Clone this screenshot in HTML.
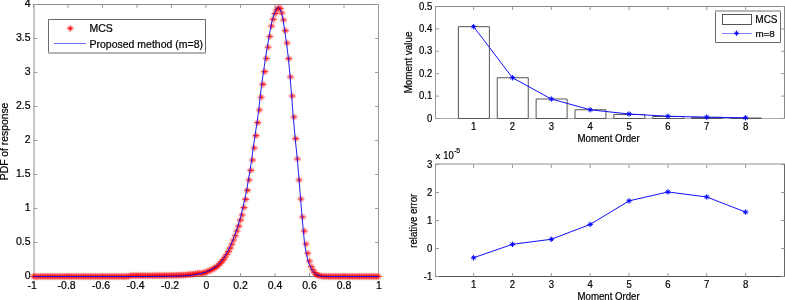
<!DOCTYPE html><html><head><meta charset="utf-8"><title>figure</title><style>html,body{margin:0;padding:0;background:#fff;width:785px;height:300px;overflow:hidden}svg{display:block}text{font-family:'Liberation Sans',Arial,Helvetica,sans-serif;fill:#000;font-size:10px;stroke:#000;stroke-width:0.2px}.ls{letter-spacing:0.2px}</style></head><body>
<svg width="785" height="300" viewBox="0 0 785 300">
<defs><filter id="b1" filterUnits="userSpaceOnUse" x="0" y="0" width="785" height="300"><feConvolveMatrix order="3" kernelMatrix="1 2 1 2 20 2 1 2 1" divisor="32" preserveAlpha="false"/></filter></defs>
<rect width="785" height="300" fill="#fff"/>
<rect x="33" y="4" width="2" height="273" fill="#c6c6c6"/>
<rect x="33" y="4" width="346" height="1" fill="#888"/>
<rect x="378" y="4" width="1" height="273" fill="#999"/>
<rect x="33" y="276" width="346" height="1" fill="#777"/>
<path fill="none" stroke="#999" stroke-width="1" d="M33.50 276.5v-3.4M33.50 4.5v3.4M68.00 276.5v-3.4M68.00 4.5v3.4M102.50 276.5v-3.4M102.50 4.5v3.4M137.00 276.5v-3.4M137.00 4.5v3.4M171.50 276.5v-3.4M171.50 4.5v3.4M206.00 276.5v-3.4M206.00 4.5v3.4M240.50 276.5v-3.4M240.50 4.5v3.4M275.00 276.5v-3.4M275.00 4.5v3.4M309.50 276.5v-3.4M309.50 4.5v3.4M344.00 276.5v-3.4M344.00 4.5v3.4M378.50 276.5v-3.4M378.50 4.5v3.4M33.5 276.50h3.9M378.5 276.50h-3.4M33.5 242.50h3.9M378.5 242.50h-3.4M33.5 208.50h3.9M378.5 208.50h-3.4M33.5 174.50h3.9M378.5 174.50h-3.4M33.5 140.50h3.9M378.5 140.50h-3.4M33.5 106.50h3.9M378.5 106.50h-3.4M33.5 72.50h3.9M378.5 72.50h-3.4M33.5 38.50h3.9M378.5 38.50h-3.4M33.5 4.50h3.9M378.5 4.50h-3.4"/>
<g filter="url(#b1)"><path fill="none" stroke="#ff0000" stroke-width="1.1" d="M30.10 276.50h6.80M31.83 276.50h6.80M33.55 276.50h6.80M35.28 276.50h6.80M37.00 276.50h6.80M38.73 276.50h6.80M40.45 276.50h6.80M42.18 276.50h6.80M43.90 276.50h6.80M45.62 276.50h6.80M47.35 276.50h6.80M49.07 276.50h6.80M50.80 276.50h6.80M52.52 276.50h6.80M54.25 276.50h6.80M55.98 276.50h6.80M57.70 276.50h6.80M59.43 276.50h6.80M61.15 276.50h6.80M62.87 276.50h6.80M64.60 276.50h6.80M66.32 276.50h6.80M68.05 276.50h6.80M69.77 276.50h6.80M71.50 276.50h6.80M73.22 276.50h6.80M74.95 276.50h6.80M76.67 276.50h6.80M78.40 276.50h6.80M80.12 276.50h6.80M81.85 276.50h6.80M83.58 276.50h6.80M85.30 276.50h6.80M87.03 276.50h6.80M88.75 276.50h6.80M90.48 276.50h6.80M92.20 276.50h6.80M93.92 276.50h6.80M95.65 276.50h6.80M97.38 276.50h6.80M99.10 276.50h6.80M100.83 276.50h6.80M102.55 276.50h6.80M104.27 276.50h6.80M106.00 276.50h6.80M107.72 276.50h6.80M109.45 276.50h6.80M111.17 276.50h6.80M112.90 276.50h6.80M114.62 276.50h6.80M116.35 276.50h6.80M118.08 276.50h6.80M119.80 276.50h6.80M121.53 276.50h6.80M123.25 276.50h6.80M124.97 276.50h6.80M126.70 275.70h6.80M128.43 275.70h6.80M130.15 275.70h6.80M131.87 275.70h6.80M133.60 275.70h6.80M135.32 275.70h6.80M137.05 275.70h6.80M138.78 275.70h6.80M140.50 275.70h6.80M142.22 275.70h6.80M143.95 275.70h6.80M145.67 275.70h6.80M147.40 275.69h6.80M149.12 275.67h6.80M150.85 275.65h6.80M152.57 275.63h6.80M154.30 275.61h6.80M156.03 275.59h6.80M157.75 275.57h6.80M159.47 275.55h6.80M161.20 275.52h6.80M162.93 275.50h6.80M164.65 275.48h6.80M166.38 275.46h6.80M168.10 275.44h6.80M169.83 275.42h6.80M171.55 275.40h6.80M173.28 275.33h6.80M175.00 275.26h6.80M176.72 275.19h6.80M178.45 275.13h6.80M180.17 275.06h6.80M181.90 274.97h6.80M183.62 274.80h6.80M185.35 274.64h6.80M187.07 274.47h6.80M188.80 274.31h6.80M190.53 274.09h6.80M192.25 273.79h6.80M193.97 273.49h6.80M195.70 273.18h6.80M197.42 273.60h6.80M199.15 273.12h6.80M200.88 272.64h6.80M202.60 272.16h6.80M204.32 271.50h6.80M206.05 270.71h6.80M207.78 269.93h6.80M209.50 269.13h6.80M211.22 268.00h6.80M212.95 266.86h6.80M214.68 265.49h6.80M216.40 263.79h6.80M218.12 261.86h6.80M219.85 259.59h6.80M221.58 257.32h6.80M223.30 254.46h6.80M225.03 251.59h6.80M226.75 248.08h6.80M228.48 244.28h6.80M230.20 240.04h6.80M231.92 235.70h6.80M233.65 230.93h6.80M235.37 226.08h6.80M237.10 220.08h6.80M238.82 215.00h6.80M240.55 207.60h6.80M242.27 199.40h6.80M244.00 190.40h6.80M245.72 180.00h6.80M247.45 170.40h6.80M249.18 160.00h6.80M250.90 148.00h6.80M252.62 135.60h6.80M254.35 122.60h6.80M256.08 110.00h6.80M257.80 97.20h6.80M259.53 84.40h6.80M261.25 71.60h6.80M262.98 58.50h6.80M264.70 47.20h6.80M266.43 36.50h6.80M268.15 26.00h6.80M269.88 19.40h6.80M271.60 13.60h6.80M273.33 9.80h6.80M275.05 8.00h6.80M276.77 8.40h6.80M278.50 13.00h6.80M280.23 20.00h6.80M281.95 30.60h6.80M283.68 43.00h6.80M285.40 58.60h6.80M287.12 77.00h6.80M288.85 96.00h6.80M290.58 117.00h6.80M292.30 138.60h6.80M294.03 159.00h6.80M295.75 180.00h6.80M297.48 199.00h6.80M299.20 217.00h6.80M300.93 231.00h6.80M302.65 244.00h6.80M304.38 253.30h6.80M306.10 261.00h6.80M307.83 266.50h6.80M309.55 270.00h6.80M311.28 272.60h6.80M313.00 274.90h6.80M314.73 275.33h6.80M316.45 275.76h6.80M318.18 276.19h6.80M319.90 276.33h6.80M321.62 276.38h6.80M323.35 276.42h6.80M325.07 276.46h6.80M326.80 276.50h6.80M328.53 276.50h6.80M330.25 276.50h6.80M331.98 276.50h6.80M333.70 276.50h6.80M335.43 276.50h6.80M337.15 276.50h6.80M338.88 276.50h6.80M340.60 276.50h6.80M342.33 276.50h6.80M344.05 276.50h6.80M345.78 276.50h6.80M347.50 276.50h6.80M349.23 276.50h6.80M350.95 276.50h6.80M352.68 276.50h6.80M354.40 276.50h6.80M356.13 276.50h6.80M357.85 276.50h6.80M359.58 276.50h6.80M361.30 276.50h6.80M363.03 276.50h6.80M364.75 276.50h6.80M366.48 276.50h6.80M368.20 276.50h6.80M369.93 276.50h6.80M371.65 276.50h6.80M373.38 276.50h6.80M375.10 276.50h6.80"/>
<path fill="none" stroke="#ff0000" stroke-width="0.8" d="M33.50 273.20v6.60M35.23 273.20v6.60M36.95 273.20v6.60M38.68 273.20v6.60M40.40 273.20v6.60M42.13 273.20v6.60M43.85 273.20v6.60M45.58 273.20v6.60M47.30 273.20v6.60M49.02 273.20v6.60M50.75 273.20v6.60M52.47 273.20v6.60M54.20 273.20v6.60M55.92 273.20v6.60M57.65 273.20v6.60M59.38 273.20v6.60M61.10 273.20v6.60M62.83 273.20v6.60M64.55 273.20v6.60M66.27 273.20v6.60M68.00 273.20v6.60M69.72 273.20v6.60M71.45 273.20v6.60M73.17 273.20v6.60M74.90 273.20v6.60M76.62 273.20v6.60M78.35 273.20v6.60M80.08 273.20v6.60M81.80 273.20v6.60M83.53 273.20v6.60M85.25 273.20v6.60M86.98 273.20v6.60M88.70 273.20v6.60M90.43 273.20v6.60M92.15 273.20v6.60M93.88 273.20v6.60M95.60 273.20v6.60M97.32 273.20v6.60M99.05 273.20v6.60M100.78 273.20v6.60M102.50 273.20v6.60M104.23 273.20v6.60M105.95 273.20v6.60M107.67 273.20v6.60M109.40 273.20v6.60M111.12 273.20v6.60M112.85 273.20v6.60M114.57 273.20v6.60M116.30 273.20v6.60M118.02 273.20v6.60M119.75 273.20v6.60M121.48 273.20v6.60M123.20 273.20v6.60M124.93 273.20v6.60M126.65 273.20v6.60M128.38 273.20v6.60M130.10 272.40v6.60M131.83 272.40v6.60M133.55 272.40v6.60M135.27 272.40v6.60M137.00 272.40v6.60M138.72 272.40v6.60M140.45 272.40v6.60M142.18 272.40v6.60M143.90 272.40v6.60M145.62 272.40v6.60M147.35 272.40v6.60M149.07 272.40v6.60M150.80 272.39v6.60M152.53 272.37v6.60M154.25 272.35v6.60M155.97 272.33v6.60M157.70 272.31v6.60M159.43 272.29v6.60M161.15 272.27v6.60M162.88 272.25v6.60M164.60 272.22v6.60M166.33 272.20v6.60M168.05 272.18v6.60M169.78 272.16v6.60M171.50 272.14v6.60M173.23 272.12v6.60M174.95 272.10v6.60M176.68 272.03v6.60M178.40 271.96v6.60M180.12 271.89v6.60M181.85 271.83v6.60M183.57 271.76v6.60M185.30 271.67v6.60M187.03 271.50v6.60M188.75 271.34v6.60M190.47 271.17v6.60M192.20 271.01v6.60M193.93 270.79v6.60M195.65 270.49v6.60M197.38 270.19v6.60M199.10 269.88v6.60M200.82 270.30v6.60M202.55 269.82v6.60M204.28 269.34v6.60M206.00 268.86v6.60M207.72 268.20v6.60M209.45 267.41v6.60M211.18 266.63v6.60M212.90 265.83v6.60M214.62 264.69v6.60M216.35 263.56v6.60M218.08 262.19v6.60M219.80 260.49v6.60M221.53 258.56v6.60M223.25 256.29v6.60M224.98 254.02v6.60M226.70 251.16v6.60M228.43 248.29v6.60M230.15 244.78v6.60M231.88 240.98v6.60M233.60 236.74v6.60M235.32 232.40v6.60M237.05 227.63v6.60M238.77 222.78v6.60M240.50 216.78v6.60M242.22 211.70v6.60M243.95 204.30v6.60M245.67 196.10v6.60M247.40 187.10v6.60M249.12 176.70v6.60M250.85 167.10v6.60M252.58 156.70v6.60M254.30 144.70v6.60M256.02 132.30v6.60M257.75 119.30v6.60M259.48 106.70v6.60M261.20 93.90v6.60M262.93 81.10v6.60M264.65 68.30v6.60M266.38 55.20v6.60M268.10 43.90v6.60M269.83 33.20v6.60M271.55 22.70v6.60M273.28 16.10v6.60M275.00 10.30v6.60M276.73 6.50v6.60M278.45 4.70v6.60M280.17 5.10v6.60M281.90 9.70v6.60M283.62 16.70v6.60M285.35 27.30v6.60M287.07 39.70v6.60M288.80 55.30v6.60M290.52 73.70v6.60M292.25 92.70v6.60M293.98 113.70v6.60M295.70 135.30v6.60M297.43 155.70v6.60M299.15 176.70v6.60M300.88 195.70v6.60M302.60 213.70v6.60M304.32 227.70v6.60M306.05 240.70v6.60M307.78 250.00v6.60M309.50 257.70v6.60M311.23 263.20v6.60M312.95 266.70v6.60M314.68 269.30v6.60M316.40 271.60v6.60M318.12 272.03v6.60M319.85 272.46v6.60M321.57 272.89v6.60M323.30 273.03v6.60M325.02 273.08v6.60M326.75 273.12v6.60M328.47 273.16v6.60M330.20 273.20v6.60M331.93 273.20v6.60M333.65 273.20v6.60M335.38 273.20v6.60M337.10 273.20v6.60M338.82 273.20v6.60M340.55 273.20v6.60M342.28 273.20v6.60M344.00 273.20v6.60M345.73 273.20v6.60M347.45 273.20v6.60M349.18 273.20v6.60M350.90 273.20v6.60M352.62 273.20v6.60M354.35 273.20v6.60M356.08 273.20v6.60M357.80 273.20v6.60M359.53 273.20v6.60M361.25 273.20v6.60M362.98 273.20v6.60M364.70 273.20v6.60M366.43 273.20v6.60M368.15 273.20v6.60M369.88 273.20v6.60M371.60 273.20v6.60M373.32 273.20v6.60M375.05 273.20v6.60M376.77 273.20v6.60M378.50 273.20v6.60"/>
<path fill="none" stroke="#ff0000" stroke-width="0.7" d="M31.20 274.20l4.60 4.60M31.20 278.80l4.60 -4.60M32.93 274.20l4.60 4.60M32.93 278.80l4.60 -4.60M34.65 274.20l4.60 4.60M34.65 278.80l4.60 -4.60M36.38 274.20l4.60 4.60M36.38 278.80l4.60 -4.60M38.10 274.20l4.60 4.60M38.10 278.80l4.60 -4.60M39.83 274.20l4.60 4.60M39.83 278.80l4.60 -4.60M41.55 274.20l4.60 4.60M41.55 278.80l4.60 -4.60M43.28 274.20l4.60 4.60M43.28 278.80l4.60 -4.60M45.00 274.20l4.60 4.60M45.00 278.80l4.60 -4.60M46.72 274.20l4.60 4.60M46.72 278.80l4.60 -4.60M48.45 274.20l4.60 4.60M48.45 278.80l4.60 -4.60M50.17 274.20l4.60 4.60M50.17 278.80l4.60 -4.60M51.90 274.20l4.60 4.60M51.90 278.80l4.60 -4.60M53.62 274.20l4.60 4.60M53.62 278.80l4.60 -4.60M55.35 274.20l4.60 4.60M55.35 278.80l4.60 -4.60M57.08 274.20l4.60 4.60M57.08 278.80l4.60 -4.60M58.80 274.20l4.60 4.60M58.80 278.80l4.60 -4.60M60.53 274.20l4.60 4.60M60.53 278.80l4.60 -4.60M62.25 274.20l4.60 4.60M62.25 278.80l4.60 -4.60M63.97 274.20l4.60 4.60M63.97 278.80l4.60 -4.60M65.70 274.20l4.60 4.60M65.70 278.80l4.60 -4.60M67.42 274.20l4.60 4.60M67.42 278.80l4.60 -4.60M69.15 274.20l4.60 4.60M69.15 278.80l4.60 -4.60M70.88 274.20l4.60 4.60M70.88 278.80l4.60 -4.60M72.60 274.20l4.60 4.60M72.60 278.80l4.60 -4.60M74.33 274.20l4.60 4.60M74.33 278.80l4.60 -4.60M76.05 274.20l4.60 4.60M76.05 278.80l4.60 -4.60M77.78 274.20l4.60 4.60M77.78 278.80l4.60 -4.60M79.50 274.20l4.60 4.60M79.50 278.80l4.60 -4.60M81.23 274.20l4.60 4.60M81.23 278.80l4.60 -4.60M82.95 274.20l4.60 4.60M82.95 278.80l4.60 -4.60M84.68 274.20l4.60 4.60M84.68 278.80l4.60 -4.60M86.40 274.20l4.60 4.60M86.40 278.80l4.60 -4.60M88.13 274.20l4.60 4.60M88.13 278.80l4.60 -4.60M89.85 274.20l4.60 4.60M89.85 278.80l4.60 -4.60M91.58 274.20l4.60 4.60M91.58 278.80l4.60 -4.60M93.30 274.20l4.60 4.60M93.30 278.80l4.60 -4.60M95.02 274.20l4.60 4.60M95.02 278.80l4.60 -4.60M96.75 274.20l4.60 4.60M96.75 278.80l4.60 -4.60M98.48 274.20l4.60 4.60M98.48 278.80l4.60 -4.60M100.20 274.20l4.60 4.60M100.20 278.80l4.60 -4.60M101.93 274.20l4.60 4.60M101.93 278.80l4.60 -4.60M103.65 274.20l4.60 4.60M103.65 278.80l4.60 -4.60M105.37 274.20l4.60 4.60M105.37 278.80l4.60 -4.60M107.10 274.20l4.60 4.60M107.10 278.80l4.60 -4.60M108.82 274.20l4.60 4.60M108.82 278.80l4.60 -4.60M110.55 274.20l4.60 4.60M110.55 278.80l4.60 -4.60M112.27 274.20l4.60 4.60M112.27 278.80l4.60 -4.60M114.00 274.20l4.60 4.60M114.00 278.80l4.60 -4.60M115.72 274.20l4.60 4.60M115.72 278.80l4.60 -4.60M117.45 274.20l4.60 4.60M117.45 278.80l4.60 -4.60M119.18 274.20l4.60 4.60M119.18 278.80l4.60 -4.60M120.90 274.20l4.60 4.60M120.90 278.80l4.60 -4.60M122.63 274.20l4.60 4.60M122.63 278.80l4.60 -4.60M124.35 274.20l4.60 4.60M124.35 278.80l4.60 -4.60M126.08 274.20l4.60 4.60M126.08 278.80l4.60 -4.60M127.80 273.40l4.60 4.60M127.80 278.00l4.60 -4.60M129.53 273.40l4.60 4.60M129.53 278.00l4.60 -4.60M131.25 273.40l4.60 4.60M131.25 278.00l4.60 -4.60M132.97 273.40l4.60 4.60M132.97 278.00l4.60 -4.60M134.70 273.40l4.60 4.60M134.70 278.00l4.60 -4.60M136.42 273.40l4.60 4.60M136.42 278.00l4.60 -4.60M138.15 273.40l4.60 4.60M138.15 278.00l4.60 -4.60M139.88 273.40l4.60 4.60M139.88 278.00l4.60 -4.60M141.60 273.40l4.60 4.60M141.60 278.00l4.60 -4.60M143.32 273.40l4.60 4.60M143.32 278.00l4.60 -4.60M145.05 273.40l4.60 4.60M145.05 278.00l4.60 -4.60M146.77 273.40l4.60 4.60M146.77 278.00l4.60 -4.60M148.50 273.39l4.60 4.60M148.50 277.99l4.60 -4.60M150.22 273.37l4.60 4.60M150.22 277.97l4.60 -4.60M151.95 273.35l4.60 4.60M151.95 277.95l4.60 -4.60M153.67 273.33l4.60 4.60M153.67 277.93l4.60 -4.60M155.40 273.31l4.60 4.60M155.40 277.91l4.60 -4.60M157.12 273.29l4.60 4.60M157.12 277.89l4.60 -4.60M158.85 273.27l4.60 4.60M158.85 277.87l4.60 -4.60M160.57 273.25l4.60 4.60M160.57 277.85l4.60 -4.60M162.30 273.22l4.60 4.60M162.30 277.82l4.60 -4.60M164.03 273.20l4.60 4.60M164.03 277.80l4.60 -4.60M165.75 273.18l4.60 4.60M165.75 277.78l4.60 -4.60M167.47 273.16l4.60 4.60M167.47 277.76l4.60 -4.60M169.20 273.14l4.60 4.60M169.20 277.74l4.60 -4.60M170.93 273.12l4.60 4.60M170.93 277.72l4.60 -4.60M172.65 273.10l4.60 4.60M172.65 277.70l4.60 -4.60M174.38 273.03l4.60 4.60M174.38 277.63l4.60 -4.60M176.10 272.96l4.60 4.60M176.10 277.56l4.60 -4.60M177.82 272.89l4.60 4.60M177.82 277.50l4.60 -4.60M179.55 272.83l4.60 4.60M179.55 277.43l4.60 -4.60M181.27 272.76l4.60 4.60M181.27 277.36l4.60 -4.60M183.00 272.67l4.60 4.60M183.00 277.27l4.60 -4.60M184.72 272.50l4.60 4.60M184.72 277.10l4.60 -4.60M186.45 272.34l4.60 4.60M186.45 276.94l4.60 -4.60M188.17 272.17l4.60 4.60M188.17 276.77l4.60 -4.60M189.90 272.01l4.60 4.60M189.90 276.61l4.60 -4.60M191.62 271.79l4.60 4.60M191.62 276.39l4.60 -4.60M193.35 271.49l4.60 4.60M193.35 276.09l4.60 -4.60M195.07 271.19l4.60 4.60M195.07 275.79l4.60 -4.60M196.80 270.88l4.60 4.60M196.80 275.48l4.60 -4.60M198.52 271.30l4.60 4.60M198.52 275.90l4.60 -4.60M200.25 270.82l4.60 4.60M200.25 275.42l4.60 -4.60M201.97 270.34l4.60 4.60M201.97 274.94l4.60 -4.60M203.70 269.86l4.60 4.60M203.70 274.46l4.60 -4.60M205.42 269.20l4.60 4.60M205.42 273.80l4.60 -4.60M207.15 268.41l4.60 4.60M207.15 273.01l4.60 -4.60M208.88 267.63l4.60 4.60M208.88 272.23l4.60 -4.60M210.60 266.83l4.60 4.60M210.60 271.43l4.60 -4.60M212.32 265.69l4.60 4.60M212.32 270.30l4.60 -4.60M214.05 264.56l4.60 4.60M214.05 269.16l4.60 -4.60M215.78 263.19l4.60 4.60M215.78 267.79l4.60 -4.60M217.50 261.49l4.60 4.60M217.50 266.09l4.60 -4.60M219.22 259.56l4.60 4.60M219.22 264.16l4.60 -4.60M220.95 257.29l4.60 4.60M220.95 261.89l4.60 -4.60M222.68 255.02l4.60 4.60M222.68 259.62l4.60 -4.60M224.40 252.16l4.60 4.60M224.40 256.76l4.60 -4.60M226.12 249.29l4.60 4.60M226.12 253.89l4.60 -4.60M227.85 245.78l4.60 4.60M227.85 250.38l4.60 -4.60M229.58 241.98l4.60 4.60M229.58 246.58l4.60 -4.60M231.30 237.74l4.60 4.60M231.30 242.34l4.60 -4.60M233.02 233.40l4.60 4.60M233.02 238.00l4.60 -4.60M234.75 228.63l4.60 4.60M234.75 233.23l4.60 -4.60M236.47 223.78l4.60 4.60M236.47 228.38l4.60 -4.60M238.20 217.78l4.60 4.60M238.20 222.38l4.60 -4.60M239.92 212.70l4.60 4.60M239.92 217.30l4.60 -4.60M241.65 205.30l4.60 4.60M241.65 209.90l4.60 -4.60M243.37 197.10l4.60 4.60M243.37 201.70l4.60 -4.60M245.10 188.10l4.60 4.60M245.10 192.70l4.60 -4.60M246.82 177.70l4.60 4.60M246.82 182.30l4.60 -4.60M248.55 168.10l4.60 4.60M248.55 172.70l4.60 -4.60M250.28 157.70l4.60 4.60M250.28 162.30l4.60 -4.60M252.00 145.70l4.60 4.60M252.00 150.30l4.60 -4.60M253.72 133.30l4.60 4.60M253.72 137.90l4.60 -4.60M255.45 120.30l4.60 4.60M255.45 124.90l4.60 -4.60M257.18 107.70l4.60 4.60M257.18 112.30l4.60 -4.60M258.90 94.90l4.60 4.60M258.90 99.50l4.60 -4.60M260.62 82.10l4.60 4.60M260.62 86.70l4.60 -4.60M262.35 69.30l4.60 4.60M262.35 73.90l4.60 -4.60M264.07 56.20l4.60 4.60M264.07 60.80l4.60 -4.60M265.80 44.90l4.60 4.60M265.80 49.50l4.60 -4.60M267.53 34.20l4.60 4.60M267.53 38.80l4.60 -4.60M269.25 23.70l4.60 4.60M269.25 28.30l4.60 -4.60M270.98 17.10l4.60 4.60M270.98 21.70l4.60 -4.60M272.70 11.30l4.60 4.60M272.70 15.90l4.60 -4.60M274.43 7.50l4.60 4.60M274.43 12.10l4.60 -4.60M276.15 5.70l4.60 4.60M276.15 10.30l4.60 -4.60M277.87 6.10l4.60 4.60M277.87 10.70l4.60 -4.60M279.60 10.70l4.60 4.60M279.60 15.30l4.60 -4.60M281.32 17.70l4.60 4.60M281.32 22.30l4.60 -4.60M283.05 28.30l4.60 4.60M283.05 32.90l4.60 -4.60M284.77 40.70l4.60 4.60M284.77 45.30l4.60 -4.60M286.50 56.30l4.60 4.60M286.50 60.90l4.60 -4.60M288.22 74.70l4.60 4.60M288.22 79.30l4.60 -4.60M289.95 93.70l4.60 4.60M289.95 98.30l4.60 -4.60M291.68 114.70l4.60 4.60M291.68 119.30l4.60 -4.60M293.40 136.30l4.60 4.60M293.40 140.90l4.60 -4.60M295.12 156.70l4.60 4.60M295.12 161.30l4.60 -4.60M296.85 177.70l4.60 4.60M296.85 182.30l4.60 -4.60M298.57 196.70l4.60 4.60M298.57 201.30l4.60 -4.60M300.30 214.70l4.60 4.60M300.30 219.30l4.60 -4.60M302.02 228.70l4.60 4.60M302.02 233.30l4.60 -4.60M303.75 241.70l4.60 4.60M303.75 246.30l4.60 -4.60M305.48 251.00l4.60 4.60M305.48 255.60l4.60 -4.60M307.20 258.70l4.60 4.60M307.20 263.30l4.60 -4.60M308.93 264.20l4.60 4.60M308.93 268.80l4.60 -4.60M310.65 267.70l4.60 4.60M310.65 272.30l4.60 -4.60M312.38 270.30l4.60 4.60M312.38 274.90l4.60 -4.60M314.10 272.60l4.60 4.60M314.10 277.20l4.60 -4.60M315.82 273.03l4.60 4.60M315.82 277.63l4.60 -4.60M317.55 273.46l4.60 4.60M317.55 278.06l4.60 -4.60M319.27 273.89l4.60 4.60M319.27 278.49l4.60 -4.60M321.00 274.03l4.60 4.60M321.00 278.63l4.60 -4.60M322.72 274.08l4.60 4.60M322.72 278.68l4.60 -4.60M324.45 274.12l4.60 4.60M324.45 278.72l4.60 -4.60M326.17 274.16l4.60 4.60M326.17 278.76l4.60 -4.60M327.90 274.20l4.60 4.60M327.90 278.80l4.60 -4.60M329.62 274.20l4.60 4.60M329.62 278.80l4.60 -4.60M331.35 274.20l4.60 4.60M331.35 278.80l4.60 -4.60M333.07 274.20l4.60 4.60M333.07 278.80l4.60 -4.60M334.80 274.20l4.60 4.60M334.80 278.80l4.60 -4.60M336.52 274.20l4.60 4.60M336.52 278.80l4.60 -4.60M338.25 274.20l4.60 4.60M338.25 278.80l4.60 -4.60M339.98 274.20l4.60 4.60M339.98 278.80l4.60 -4.60M341.70 274.20l4.60 4.60M341.70 278.80l4.60 -4.60M343.43 274.20l4.60 4.60M343.43 278.80l4.60 -4.60M345.15 274.20l4.60 4.60M345.15 278.80l4.60 -4.60M346.88 274.20l4.60 4.60M346.88 278.80l4.60 -4.60M348.60 274.20l4.60 4.60M348.60 278.80l4.60 -4.60M350.32 274.20l4.60 4.60M350.32 278.80l4.60 -4.60M352.05 274.20l4.60 4.60M352.05 278.80l4.60 -4.60M353.78 274.20l4.60 4.60M353.78 278.80l4.60 -4.60M355.50 274.20l4.60 4.60M355.50 278.80l4.60 -4.60M357.23 274.20l4.60 4.60M357.23 278.80l4.60 -4.60M358.95 274.20l4.60 4.60M358.95 278.80l4.60 -4.60M360.68 274.20l4.60 4.60M360.68 278.80l4.60 -4.60M362.40 274.20l4.60 4.60M362.40 278.80l4.60 -4.60M364.12 274.20l4.60 4.60M364.12 278.80l4.60 -4.60M365.85 274.20l4.60 4.60M365.85 278.80l4.60 -4.60M367.57 274.20l4.60 4.60M367.57 278.80l4.60 -4.60M369.30 274.20l4.60 4.60M369.30 278.80l4.60 -4.60M371.02 274.20l4.60 4.60M371.02 278.80l4.60 -4.60M372.75 274.20l4.60 4.60M372.75 278.80l4.60 -4.60M374.47 274.20l4.60 4.60M374.47 278.80l4.60 -4.60M376.20 274.20l4.60 4.60M376.20 278.80l4.60 -4.60"/></g>
<polyline fill="none" stroke="#0505ee" stroke-width="0.9" points="33.50,276.50 150.00,276.50 175.00,276.20 185.00,275.80 193.30,275.00 199.91,273.82 206.34,271.98 212.11,269.18 216.52,266.23 220.02,262.77 224.18,257.32 228.18,250.68 231.20,244.00 234.30,236.32 237.88,226.43 240.85,216.08 242.90,207.40 244.80,199.20 246.65,190.05 248.35,180.20 250.05,170.20 251.65,159.60 253.20,147.90 255.00,135.45 257.00,122.70 258.70,109.95 260.10,97.20 261.70,84.40 263.50,71.55 265.30,59.05 267.20,47.50 269.10,36.65 270.75,27.00 272.35,19.60 274.20,14.00 276.20,9.40 278.20,7.00 279.90,8.60 281.77,13.65 283.25,20.90 284.75,31.05 286.60,43.80 288.50,59.30 290.15,77.15 291.65,96.50 293.25,117.15 295.20,138.30 297.30,159.15 299.05,179.50 300.55,198.75 302.02,216.07 303.32,230.73 304.52,242.88 306.23,253.60 308.70,263.15 312.07,270.30 316.40,274.90 322.00,276.30 330.00,276.50 378.50,276.50"/>
<text transform="translate(32.10,288.80) scale(1.05,1)" style="font-size:10px" text-anchor="middle">-1</text>
<text transform="translate(66.60,288.80) scale(1.05,1)" style="font-size:10px" text-anchor="middle">-0.8</text>
<text transform="translate(101.10,288.80) scale(1.05,1)" style="font-size:10px" text-anchor="middle">-0.6</text>
<text transform="translate(135.60,288.80) scale(1.05,1)" style="font-size:10px" text-anchor="middle">-0.4</text>
<text transform="translate(170.10,288.80) scale(1.05,1)" style="font-size:10px" text-anchor="middle">-0.2</text>
<text transform="translate(206.50,288.80) scale(1.05,1)" style="font-size:10px" text-anchor="middle">0</text>
<text transform="translate(240.50,288.80) scale(1.05,1)" style="font-size:10px" text-anchor="middle">0.2</text>
<text transform="translate(275.00,288.80) scale(1.05,1)" style="font-size:10px" text-anchor="middle">0.4</text>
<text transform="translate(309.50,288.80) scale(1.05,1)" style="font-size:10px" text-anchor="middle">0.6</text>
<text transform="translate(344.00,288.80) scale(1.05,1)" style="font-size:10px" text-anchor="middle">0.8</text>
<text transform="translate(379.00,288.80) scale(1.05,1)" style="font-size:10px" text-anchor="middle">1</text>
<text transform="translate(30.60,278.90) scale(1.05,1)" style="font-size:10px" text-anchor="end">0</text>
<text transform="translate(30.60,244.90) scale(1.05,1)" style="font-size:10px" text-anchor="end">0.5</text>
<text transform="translate(30.60,210.90) scale(1.05,1)" style="font-size:10px" text-anchor="end">1</text>
<text transform="translate(30.60,176.90) scale(1.05,1)" style="font-size:10px" text-anchor="end">1.5</text>
<text transform="translate(30.60,142.90) scale(1.05,1)" style="font-size:10px" text-anchor="end">2</text>
<text transform="translate(30.60,108.90) scale(1.05,1)" style="font-size:10px" text-anchor="end">2.5</text>
<text transform="translate(30.60,74.90) scale(1.05,1)" style="font-size:10px" text-anchor="end">3</text>
<text transform="translate(30.60,40.90) scale(1.05,1)" style="font-size:10px" text-anchor="end">3.5</text>
<text transform="translate(30.60,6.90) scale(1.05,1)" style="font-size:10px" text-anchor="end">4</text>
<text transform="translate(7.90,141.40) rotate(-90) scale(1.035,1)" style="font-size:10px" text-anchor="middle">PDF of response</text>
<rect x="48" y="19" width="158" height="35" fill="#fff"/>
<path fill="none" stroke="#6a6a6a" stroke-width="1" d="M48.5 52V19.5H205.5V52"/>
<rect x="48" y="52" width="158" height="2" fill="#b4b4b4"/>
<g filter="url(#b1)"><path fill="none" stroke="#ff0000" stroke-width="1.2" d="M67.30 28.40h6.00M70.30 25.40v6.00"/>
<path fill="none" stroke="#ff0000" stroke-width="0.7" d="M68.30 26.40l4.00 4.00M68.30 30.40l4.00 -4.00"/></g>
<path fill="none" stroke="#7070ff" stroke-width="1" d="M54 43.5H86"/>
<text transform="translate(89.50,32.20) scale(1.05,1)" style="font-size:10px">MCS</text>
<text transform="translate(89.50,47.60) scale(1.05,1)" style="font-size:10px">Proposed method (m=8)</text>
<rect x="435" y="6" width="1" height="113" fill="#999"/>
<rect x="435" y="6" width="350" height="1" fill="#888"/>
<rect x="784" y="6" width="1" height="113" fill="#888"/>
<rect x="435" y="118" width="350" height="1" fill="#aaa"/>
<path fill="none" stroke="#999" stroke-width="1" d="M473.60 118.5v-3.5M473.60 6.5v3.5M512.46 118.5v-3.5M512.46 6.5v3.5M551.32 118.5v-3.5M551.32 6.5v3.5M590.18 118.5v-3.5M590.18 6.5v3.5M629.04 118.5v-3.5M629.04 6.5v3.5M667.90 118.5v-3.5M667.90 6.5v3.5M706.76 118.5v-3.5M706.76 6.5v3.5M745.62 118.5v-3.5M745.62 6.5v3.5M435.5 118.50h3.5M784.5 118.50h-3.5M435.5 96.10h3.5M784.5 96.10h-3.5M435.5 73.70h3.5M784.5 73.70h-3.5M435.5 51.30h3.5M784.5 51.30h-3.5M435.5 28.90h3.5M784.5 28.90h-3.5M435.5 6.50h3.5M784.5 6.50h-3.5"/>
<path fill="#fff" stroke="#555" stroke-width="1" d="M458.40 118.5V26.66H489.40V118.5ZM497.26 118.5V77.73H528.26V118.5ZM536.12 118.5V99.01H567.12V118.5ZM574.98 118.5V109.76H605.98V118.5ZM613.84 118.5V114.47H644.84V118.5ZM652.70 118.5V116.48H683.70V118.5ZM691.56 118.5V117.38H722.56V118.5ZM730.42 118.5V118.05H761.42V118.5Z"/>
<polyline fill="none" stroke="#1010ff" stroke-width="1" points="473.60,26.66 512.46,77.73 551.32,99.01 590.18,109.76 629.04,114.02 667.90,116.26 706.76,117.16 745.62,117.83"/>
<path fill="none" stroke="#0000ff" stroke-width="1" d="M470.90 26.66h5.40M473.60 23.96v5.40M471.80 24.86l3.60 3.60M471.80 28.46l3.60 -3.60M509.76 77.73h5.40M512.46 75.03v5.40M510.66 75.93l3.60 3.60M510.66 79.53l3.60 -3.60M548.62 99.01h5.40M551.32 96.31v5.40M549.52 97.21l3.60 3.60M549.52 100.81l3.60 -3.60M587.48 109.76h5.40M590.18 107.06v5.40M588.38 107.96l3.60 3.60M588.38 111.56l3.60 -3.60M626.34 114.02h5.40M629.04 111.32v5.40M627.24 112.22l3.60 3.60M627.24 115.82l3.60 -3.60M665.20 116.26h5.40M667.90 113.56v5.40M666.10 114.46l3.60 3.60M666.10 118.06l3.60 -3.60M704.06 117.16h5.40M706.76 114.46v5.40M704.96 115.36l3.60 3.60M704.96 118.96l3.60 -3.60M742.92 117.83h5.40M745.62 115.13v5.40M743.82 116.03l3.60 3.60M743.82 119.63l3.60 -3.60"/>
<text transform="translate(473.60,130.00) scale(0.955,1)" style="font-size:10px" text-anchor="middle">1</text>
<text transform="translate(512.46,130.00) scale(0.955,1)" style="font-size:10px" text-anchor="middle">2</text>
<text transform="translate(551.32,130.00) scale(0.955,1)" style="font-size:10px" text-anchor="middle">3</text>
<text transform="translate(590.18,130.00) scale(0.955,1)" style="font-size:10px" text-anchor="middle">4</text>
<text transform="translate(629.04,130.00) scale(0.955,1)" style="font-size:10px" text-anchor="middle">5</text>
<text transform="translate(667.90,130.00) scale(0.955,1)" style="font-size:10px" text-anchor="middle">6</text>
<text transform="translate(706.76,130.00) scale(0.955,1)" style="font-size:10px" text-anchor="middle">7</text>
<text transform="translate(745.62,130.00) scale(0.955,1)" style="font-size:10px" text-anchor="middle">8</text>
<text transform="translate(432.20,121.60) scale(0.955,1)" style="font-size:10px" text-anchor="end">0</text>
<text transform="translate(432.20,99.20) scale(0.955,1)" style="font-size:10px" text-anchor="end">0.1</text>
<text transform="translate(432.20,76.80) scale(0.955,1)" style="font-size:10px" text-anchor="end">0.2</text>
<text transform="translate(432.20,54.40) scale(0.955,1)" style="font-size:10px" text-anchor="end">0.3</text>
<text transform="translate(432.20,32.00) scale(0.955,1)" style="font-size:10px" text-anchor="end">0.4</text>
<text transform="translate(432.20,9.60) scale(0.955,1)" style="font-size:10px" text-anchor="end">0.5</text>
<text transform="translate(608.60,142.10) scale(0.965,1)" style="font-size:10px" text-anchor="middle">Moment Order</text>
<text transform="translate(411.60,62.50) rotate(-90) scale(0.985,1)" style="font-size:10px" text-anchor="middle">Moment value</text>
<rect x="715" y="10" width="66" height="33" fill="#fff"/>
<path fill="none" stroke="#6a6a6a" stroke-width="1" d="M715.5 11V42.5H780.5V11"/>
<rect x="715" y="10" width="66" height="2" fill="#b8b8b8"/>
<rect x="722.5" y="14.5" width="29" height="10" fill="#fff" stroke="#555" stroke-width="1"/>
<path fill="none" stroke="#8080ff" stroke-width="1" d="M722 33.5H751.5"/>
<path fill="none" stroke="#0000ff" stroke-width="1" d="M733.90 33.20h5.20M736.50 30.60v5.20M734.90 31.60l3.20 3.20M734.90 34.80l3.20 -3.20"/>
<text transform="translate(755.30,23.00)" style="font-size:10px">MCS</text>
<text transform="translate(755.40,36.60) scale(1.06,1)" style="font-size:9.3px">m=8</text>
<rect x="435" y="163" width="350" height="2" fill="#c6c6c6"/>
<rect x="435" y="164" width="1" height="113" fill="#999"/>
<rect x="784" y="164" width="1" height="113" fill="#666"/>
<rect x="435" y="276" width="350" height="1" fill="#555"/>
<path fill="none" stroke="#999" stroke-width="1" d="M473.60 276.5v-3.5M473.60 164.5v3.5M512.46 276.5v-3.5M512.46 164.5v3.5M551.32 276.5v-3.5M551.32 164.5v3.5M590.18 276.5v-3.5M590.18 164.5v3.5M629.04 276.5v-3.5M629.04 164.5v3.5M667.90 276.5v-3.5M667.90 164.5v3.5M706.76 276.5v-3.5M706.76 164.5v3.5M745.62 276.5v-3.5M745.62 164.5v3.5M435.5 276.50h3.5M784.5 276.50h-3.5M435.5 248.50h3.5M784.5 248.50h-3.5M435.5 220.50h3.5M784.5 220.50h-3.5M435.5 192.50h3.5M784.5 192.50h-3.5M435.5 164.50h3.5M784.5 164.50h-3.5"/>
<polyline fill="none" stroke="#1010ff" stroke-width="1" points="473.60,257.74 512.46,244.30 551.32,239.26 590.18,224.42 629.04,200.90 667.90,191.94 706.76,196.98 745.62,212.10"/>
<path fill="none" stroke="#0000ff" stroke-width="1" d="M470.90 257.74h5.40M473.60 255.04v5.40M471.80 255.94l3.60 3.60M471.80 259.54l3.60 -3.60M509.76 244.30h5.40M512.46 241.60v5.40M510.66 242.50l3.60 3.60M510.66 246.10l3.60 -3.60M548.62 239.26h5.40M551.32 236.56v5.40M549.52 237.46l3.60 3.60M549.52 241.06l3.60 -3.60M587.48 224.42h5.40M590.18 221.72v5.40M588.38 222.62l3.60 3.60M588.38 226.22l3.60 -3.60M626.34 200.90h5.40M629.04 198.20v5.40M627.24 199.10l3.60 3.60M627.24 202.70l3.60 -3.60M665.20 191.94h5.40M667.90 189.24v5.40M666.10 190.14l3.60 3.60M666.10 193.74l3.60 -3.60M704.06 196.98h5.40M706.76 194.28v5.40M704.96 195.18l3.60 3.60M704.96 198.78l3.60 -3.60M742.92 212.10h5.40M745.62 209.40v5.40M743.82 210.30l3.60 3.60M743.82 213.90l3.60 -3.60"/>
<text transform="translate(473.60,288.30) scale(0.955,1)" style="font-size:10px" text-anchor="middle">1</text>
<text transform="translate(512.46,288.30) scale(0.955,1)" style="font-size:10px" text-anchor="middle">2</text>
<text transform="translate(551.32,288.30) scale(0.955,1)" style="font-size:10px" text-anchor="middle">3</text>
<text transform="translate(590.18,288.30) scale(0.955,1)" style="font-size:10px" text-anchor="middle">4</text>
<text transform="translate(629.04,288.30) scale(0.955,1)" style="font-size:10px" text-anchor="middle">5</text>
<text transform="translate(667.90,288.30) scale(0.955,1)" style="font-size:10px" text-anchor="middle">6</text>
<text transform="translate(706.76,288.30) scale(0.955,1)" style="font-size:10px" text-anchor="middle">7</text>
<text transform="translate(745.62,288.30) scale(0.955,1)" style="font-size:10px" text-anchor="middle">8</text>
<text transform="translate(432.20,279.80) scale(0.955,1)" style="font-size:10px" text-anchor="end">-1</text>
<text transform="translate(432.20,251.80) scale(0.955,1)" style="font-size:10px" text-anchor="end">0</text>
<text transform="translate(432.20,223.80) scale(0.955,1)" style="font-size:10px" text-anchor="end">1</text>
<text transform="translate(432.20,195.80) scale(0.955,1)" style="font-size:10px" text-anchor="end">2</text>
<text transform="translate(432.20,167.80) scale(0.955,1)" style="font-size:10px" text-anchor="end">3</text>
<text transform="translate(608.60,300.40) scale(0.965,1)" style="font-size:10px" text-anchor="middle">Moment Order</text>
<text transform="translate(416.70,220.70) rotate(-90) scale(0.963,1)" style="font-size:10px" text-anchor="middle">relative error</text>
<text transform="translate(435.40,159.00) scale(1.05,1)" style="font-size:9px">x</text>
<text transform="translate(443.20,159.00) scale(0.95,1)" style="font-size:10px">10</text>
<text transform="translate(453.90,153.20)" style="font-size:7px">-5</text>
</svg></body></html>
